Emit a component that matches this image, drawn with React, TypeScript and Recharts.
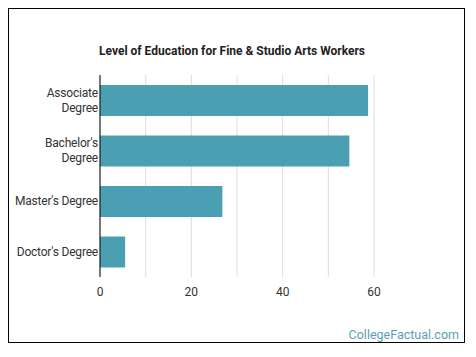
import React from "react";
import { BarChart, Bar, XAxis, YAxis, CartesianGrid } from "recharts";

const degrees = ["Associate Degree", "Bachelor's Degree", "Master's Degree", "Doctor's Degree"];
const workers = [58.7, 54.6, 26.8, 5.5];
const gridTicks = [0, 10, 20, 30, 40, 50, 60];
const labeledTicks = [0, 20, 40, 60];

const data = degrees.map((name, i) => ({ name, value: workers[i] }));

const FONT = "Roboto, 'Noto Sans', sans-serif";

// long names go on two lines, the way the original wraps them
function DegreeTick(props: any) {
  const { x, y, payload } = props;
  const label: string = payload.value;
  const lines = label.length > 15 ? label.split(" ") : [label];
  const lineHeight = 15;
  const startY = y - ((lines.length - 1) * lineHeight) / 2;
  const tx = x + 6;
  return (
    <text
      x={tx}
      y={startY}
      textAnchor="end"
      dominantBaseline="central"
      fontSize={12}
      letterSpacing={-0.2}
      fontFamily={FONT}
      fill="#333"
    >
      {lines.map((line, i) => (
        <tspan key={i} x={tx} dy={i === 0 ? 0 : lineHeight}>
          {line}
        </tspan>
      ))}
    </text>
  );
}

export default function App() {
  return (
    <div
      style={{
        position: "relative",
        width: 455,
        height: 333,
        border: "1px solid #000",
        fontFamily: FONT,
      }}
    >
      <div
        style={{
          position: "absolute",
          top: 35,
          left: 0,
          width: 446,
          textAlign: "center",
          fontSize: 12,
          fontWeight: 700,
          color: "#222",
        }}
      >
        Level of Education for Fine &amp; Studio Arts Workers
      </div>
      <BarChart
        width={455}
        height={333}
        layout="vertical"
        data={data}
        margin={{ top: 66, right: 90, bottom: 35, left: 0 }}
        barSize={31}
      >
        <CartesianGrid horizontal={false} stroke="#ddd" />
        <XAxis
          type="number"
          domain={[0, 60]}
          ticks={gridTicks}
          tickFormatter={(v: number) => (labeledTicks.includes(v) ? String(v) : "")}
          axisLine={false}
          tickLine={false}
          tick={{ fontSize: 12, fill: "#333", fontFamily: FONT }}
          tickMargin={4}
        />
        <YAxis
          type="category"
          dataKey="name"
          width={91}
          axisLine={{ stroke: "#000" }}
          tickLine={false}
          tick={<DegreeTick />}
          interval={0}
        />
        <Bar dataKey="value" fill="#4a9fb3" isAnimationActive={false} />
      </BarChart>
      <div
        style={{
          position: "absolute",
          right: 5,
          bottom: 0,
          fontSize: 12.5,
          color: "#5a9fb6",
        }}
      >
        CollegeFactual.com
      </div>
    </div>
  );
}
